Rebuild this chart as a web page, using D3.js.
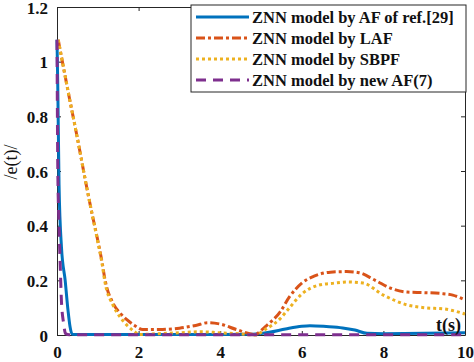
<!DOCTYPE html>
<html><head><meta charset="utf-8">
<script src="https://cdn.jsdelivr.net/npm/d3@7"></script>
<style>body{margin:0;background:#fff}svg{display:block}</style>
</head><body>
<svg id="c" width="474" height="362"></svg>
<script>
// ---- data ----
const seriesNames = ["ZNN model by AF of ref.[29]", "ZNN model by LAF", "ZNN model by SBPF", "ZNN model by new AF(7)"];
const xTicks = [0, 2, 4, 6, 8, 10];
const yTicks = [0, 0.2, 0.4, 0.6, 0.8, 1, 1.2];
const yTickLabels = ["0", "0.2", "0.4", "0.6", "0.8", "1", "1.2"];

const blueT = [0, 0.02, 0.05, 0.11, 0.2, 0.27, 0.32, 0.37, 0.6, 2, 4, 4.8, 5.2, 5.6, 6.0, 6.2, 6.6, 7.0, 7.3, 7.6, 8, 9, 10];
const blueV = [1.08, 0.9, 0.55, 0.32, 0.2, 0.09, 0.03, 0.003, 0.002, 0.002, 0.002, 0.003, 0.01, 0.022, 0.032, 0.034, 0.031, 0.026, 0.018, 0.006, 0.005, 0.006, 0.008];

const orangeT = [0.03, 0.3, 0.5, 0.69, 0.85, 0.98, 1.1, 1.18, 1.37, 1.55, 1.72, 1.9, 2.1, 2.5, 3.0, 3.4, 3.7, 4.0, 4.4, 4.85, 5.1, 5.47, 5.7, 6.0, 6.3, 6.7, 7.1, 7.4, 7.8, 8.2, 8.58, 9.0, 9.4, 9.7, 10];
const orangeV = [1.08, 0.87, 0.72, 0.57, 0.45, 0.36, 0.27, 0.2, 0.117, 0.08, 0.055, 0.035, 0.02, 0.02, 0.025, 0.035, 0.045, 0.04, 0.02, 0.002, 0.03, 0.085, 0.14, 0.19, 0.215, 0.23, 0.232, 0.228, 0.2, 0.17, 0.157, 0.155, 0.152, 0.146, 0.128];

const yellowT = [0.03, 0.3, 0.5, 0.69, 0.85, 0.98, 1.1, 1.18, 1.37, 1.55, 1.72, 1.9, 2.0, 2.5, 3.0, 3.5, 4.0, 4.5, 4.85, 5.1, 5.47, 5.7, 6.0, 6.4, 6.8, 7.1, 7.5, 8.0, 8.58, 9.0, 9.5, 10];
const yellowV = [1.08, 0.87, 0.72, 0.57, 0.45, 0.355, 0.265, 0.19, 0.11, 0.065, 0.035, 0.012, 0.002, 0.005, 0.008, 0.012, 0.008, 0.004, 0.0, 0.02, 0.06, 0.1, 0.15, 0.182, 0.19, 0.194, 0.19, 0.146, 0.11, 0.1, 0.095, 0.077];

const purpleT = [0, 0.02, 0.05, 0.08, 0.11, 0.16, 0.21, 0.3, 10];
const purpleV = [1.08, 0.6, 0.4, 0.25, 0.12, 0.045, 0.005, 0.001, 0.001];

const colors = ["#0072BD", "#D95319", "#EDB120", "#7E2F8E"];
const dashes = [null, "9,3,3,3", "3,3", "10,7"];

// ---- layout ----
const L = 57, R = 465, T = 7, B = 335;
const FONT = '"Liberation Serif", "Times New Roman", serif';
const svg = d3.select("#c");
const x = d3.scaleLinear().domain([0, 10]).range([L, R]);
const y = d3.scaleLinear().domain([0, 1.2]).range([B, T]);
const axisCol = "#262626";

function styleText(sel, size, bold) {
  sel.style("font-family", FONT).style("font-size", size + "px")
     .style("font-weight", bold ? "bold" : "normal").attr("fill", "#111");
}

// axes with inward ticks
const gx = svg.append("g").attr("transform", `translate(0,${B})`)
  .call(d3.axisBottom(x).tickValues(xTicks).tickSizeInner(-4).tickSizeOuter(0).tickPadding(9).tickFormat(d3.format("d")));
const gy = svg.append("g").attr("transform", `translate(${L},0)`)
  .call(d3.axisLeft(y).tickValues(yTicks).tickSizeInner(-4).tickSizeOuter(0).tickPadding(9).tickFormat((d, i) => yTickLabels[i]));
const gxt = svg.append("g").attr("transform", `translate(0,${T})`)
  .call(d3.axisTop(x).tickValues(xTicks).tickSizeInner(-4).tickSizeOuter(0).tickFormat(""));
const gyr = svg.append("g").attr("transform", `translate(${R},0)`)
  .call(d3.axisRight(y).tickValues(yTicks).tickSizeInner(-4).tickSizeOuter(0).tickFormat(""));
[gx, gy, gxt, gyr].forEach(g => {
  g.select(".domain").attr("stroke", axisCol).attr("stroke-width", 1);
  g.selectAll(".tick line").attr("stroke", axisCol);
  styleText(g.selectAll("text"), 17, true);
});
gx.selectAll("text").attr("dy", "0.8em");
gy.selectAll("text").attr("dy", "0.36em");

// lines
const line = d3.line().x(d => x(d[0])).y(d => y(d[1])).curve(d3.curveMonotoneX);
const series = [[blueT, blueV], [orangeT, orangeV], [yellowT, yellowV], [purpleT, purpleV]];
series.forEach((s, i) => {
  const pts = s[0].map((t, k) => [t, s[1][k]]);
  svg.append("path").datum(pts).attr("d", line).attr("fill", "none")
    .attr("stroke", colors[i]).attr("stroke-width", 3)
    .attr("stroke-dasharray", dashes[i]);
});

// labels
styleText(svg.append("text").attr("x", 461).attr("y", 331).attr("text-anchor", "end").text("t(s)"), 18, true);
styleText(svg.append("text").attr("transform", "translate(17,162) rotate(-90)").attr("text-anchor", "middle").text("/e(t)/"), 18, false);

// legend
const lg = svg.append("g");
lg.append("rect").attr("x", 191).attr("y", 5).attr("width", 275).attr("height", 87)
  .attr("fill", "#fff").attr("stroke", axisCol).attr("stroke-width", 1);
const rowY = [17, 38, 59, 80];
seriesNames.forEach((n, i) => {
  lg.append("line").attr("x1", 196).attr("x2", 249).attr("y1", rowY[i]).attr("y2", rowY[i])
    .attr("stroke", colors[i]).attr("stroke-width", 3).attr("stroke-dasharray", dashes[i]);
  styleText(lg.append("text").attr("x", 252).attr("y", rowY[i]).attr("dy", "0.35em").text(n), 16.5, true);
});
</script>
</body></html>
